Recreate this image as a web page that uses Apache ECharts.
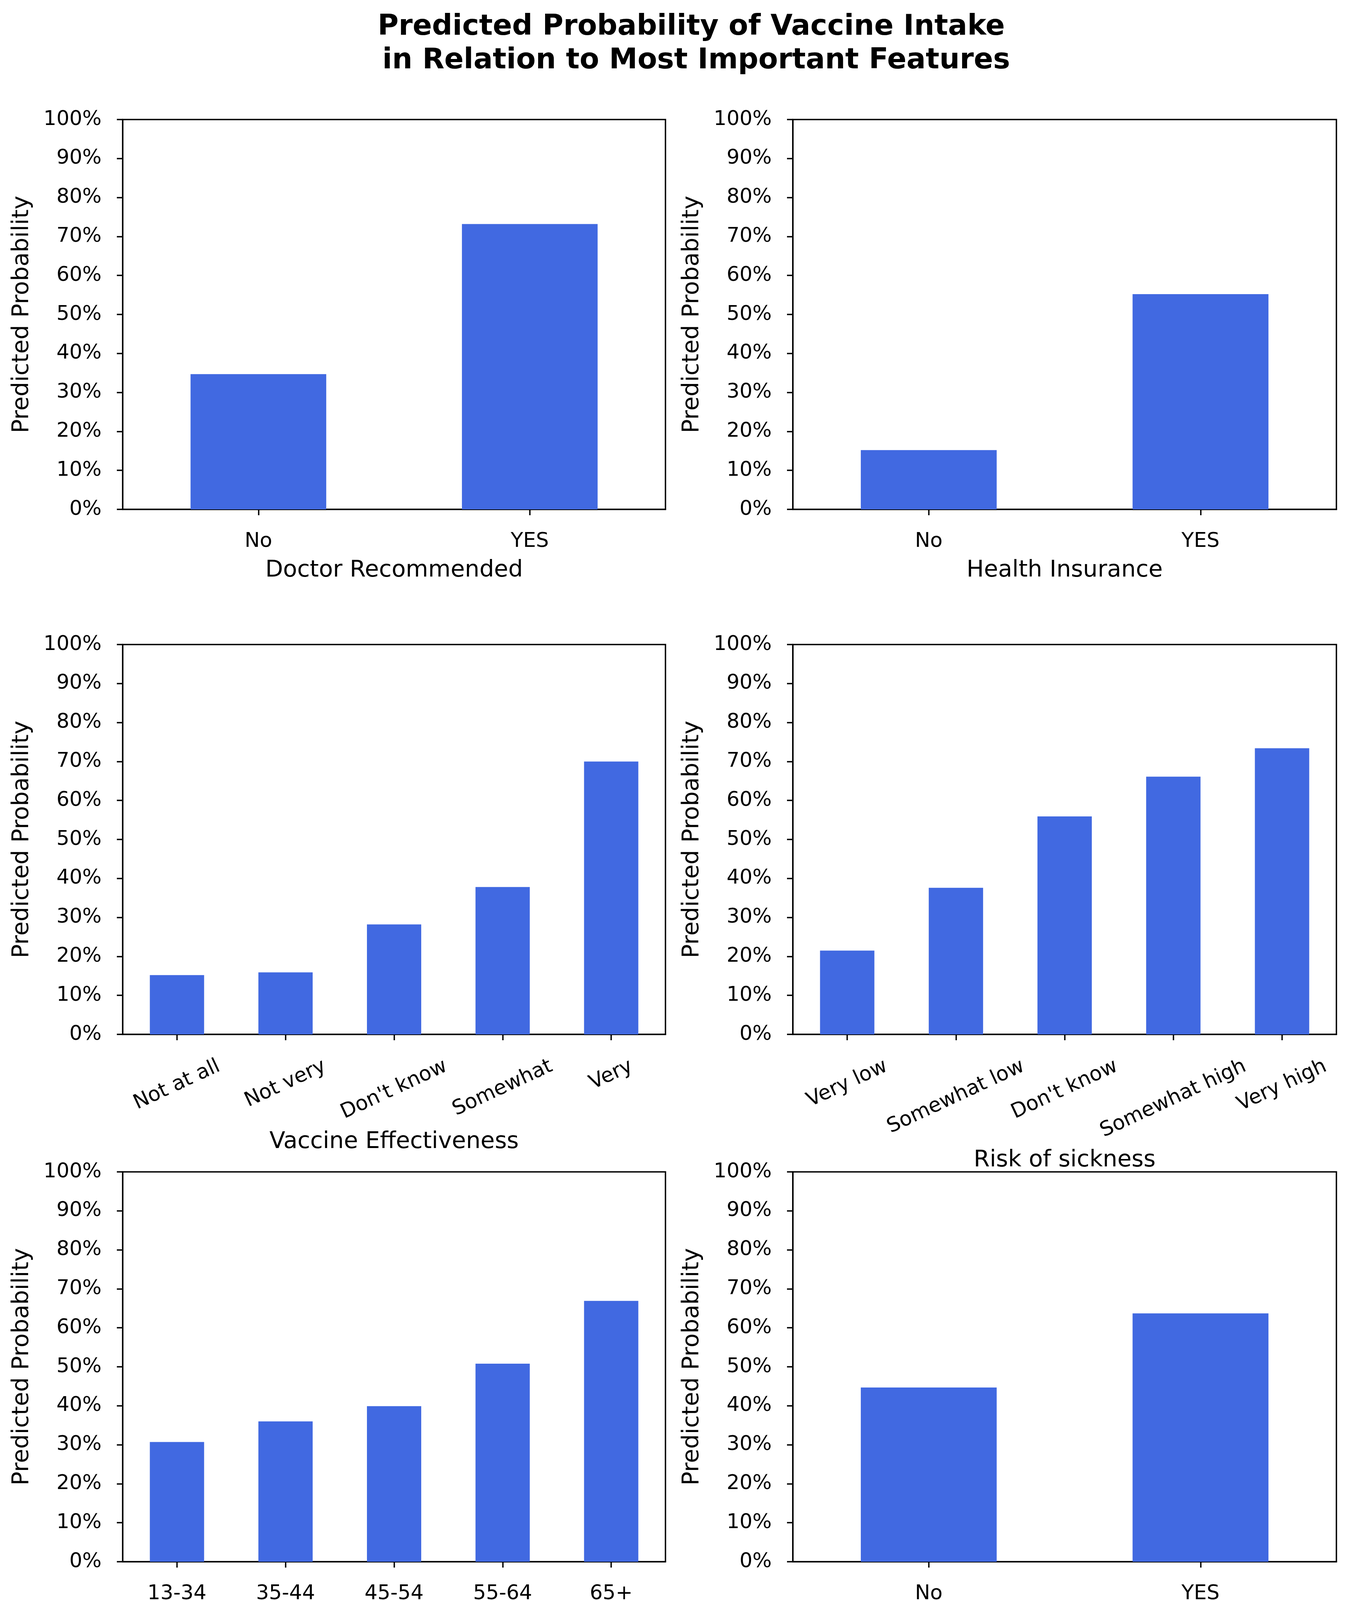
<!DOCTYPE html>
<html>
<head>
<meta charset="utf-8">
<script src="https://cdn.jsdelivr.net/npm/echarts@6/dist/echarts.min.js"></script>
<style>html,body{margin:0;padding:0;background:#fff}#c{width:3442px;height:4204px}</style>
</head>
<body>
<div id="c"></div>
<script>
// ---- data ----
const titleLines = ['Predicted Probability of Vaccine Intake', ' in Relation to Most Important Features'];
const yAxisTitle = 'Predicted Probability';

const doctorCats = ['No', 'YES'];
const doctorVals = [0.347, 0.732];
const insuranceCats = ['No', 'YES'];
const insuranceVals = [0.152, 0.552];
const effectCats = ['Not at all', 'Not very', "Don't know", 'Somewhat', 'Very'];
const effectVals = [0.152, 0.159, 0.282, 0.378, 0.700];
const riskCats = ['Very low', 'Somewhat low', "Don't know", 'Somewhat high', 'Very high'];
const riskVals = [0.215, 0.376, 0.559, 0.661, 0.734];
const ageCats = ['13-34', '35-44', '45-54', '55-64', '65+'];
const ageVals = [0.307, 0.360, 0.399, 0.508, 0.669];
const workerCats = ['No', 'YES'];
const workerVals = [0.447, 0.637];
const xTitles = ['Doctor Recommended', 'Health Insurance', 'Vaccine Effectiveness', 'Risk of sickness', 'Age Group', 'Health Worker'];

// ---- layout / style ----
const FONT = 'DejaVu Sans';
const TICK_FS = 52, LABEL_FS = 59, TITLE_FS = 73;
const PAD = 56, LABELPAD = 21;
const LW = 3.5;
const BAR = '#4169E1';
const ROT_DEG = 25;
const ROT = ROT_DEG * Math.PI / 180;

const cv = document.createElement('canvas').getContext('2d');
function tw(s, size, weight) {
  cv.font = (weight || 'normal') + ' ' + size + 'px "' + FONT + '"';
  return cv.measureText(s).width;
}

const panels = [
  { cats: doctorCats, vals: doctorVals, rot: false },
  { cats: insuranceCats, vals: insuranceVals, rot: false },
  { cats: effectCats, vals: effectVals, rot: true },
  { cats: riskCats, vals: riskVals, rot: true },
  { cats: ageCats, vals: ageVals, rot: false },
  { cats: workerCats, vals: workerVals, rot: false }
];
const cols = [{ left: 314, width: 1389 }, { left: 2029, width: 1391 }];
const rows = [306, 1650, 3000];
const PH = 998;

const grid = [], xAxis = [], yAxis = [], series = [];
panels.forEach((p, i) => {
  const r = Math.floor(i / 2), c = i % 2;
  grid.push({ left: cols[c].left, top: rows[r], width: cols[c].width, height: PH,
    show: true, borderColor: '#000', borderWidth: LW, backgroundColor: 'transparent' });
  let maxH = TICK_FS;
  const axisLabel = { interval: 0, hideOverlap: false, fontSize: TICK_FS, fontFamily: FONT, color: '#000',
    margin: PAD, align: 'center', verticalAlign: 'top' };
  if (p.rot) {
    const rich = {};
    p.cats.forEach((s, k) => {
      const w = tw(s, TICK_FS);
      const h = w * Math.sin(ROT) + TICK_FS * Math.cos(ROT);
      maxH = Math.max(maxH, h);
      const D = h / 2;
      rich['r' + k] = { fontSize: TICK_FS, fontFamily: FONT, color: '#000',
        padding: [2 * D * Math.cos(ROT), 2 * D * Math.sin(ROT), 0, 0] };
    });
    axisLabel.rotate = ROT_DEG;
    axisLabel.verticalAlign = 'middle';
    axisLabel.rich = rich;
    axisLabel.formatter = (v, k) => '{r' + k + '|' + v + '}';
  }
  xAxis.push({
    type: 'category', gridIndex: i, data: p.cats,
    axisLine: { show: true, lineStyle: { color: '#000', width: LW } },
    axisTick: { show: true, alignWithLabel: true, length: 15, lineStyle: { color: '#000', width: LW } },
    axisLabel: axisLabel,
    splitLine: { show: false },
    name: xTitles[i], nameLocation: 'middle', nameGap: PAD + maxH + LABELPAD - 2,
    nameTextStyle: { fontSize: LABEL_FS, fontFamily: FONT, color: '#000', verticalAlign: 'top' }
  });
  yAxis.push({
    type: 'value', gridIndex: i, min: 0, max: 1, interval: 0.1,
    axisLine: { show: true, lineStyle: { color: '#000', width: LW } },
    axisTick: { show: true, length: 15, lineStyle: { color: '#000', width: LW } },
    splitLine: { show: false },
    axisLabel: { fontSize: TICK_FS, fontFamily: FONT, color: '#000', margin: 54,
      formatter: v => Math.round(v * 100) + '%' },
    name: yAxisTitle, nameLocation: 'middle', nameGap: 228, nameRotate: 90,
    nameTextStyle: { fontSize: LABEL_FS, fontFamily: FONT, color: '#000' }
  });
  series.push({ type: 'bar', xAxisIndex: i, yAxisIndex: i, data: p.vals, barWidth: '50%',
    itemStyle: { color: BAR }, silent: true });
});

const TITLE_CX = 1764;

const chart = echarts.init(document.getElementById('c'), null, { renderer: 'canvas' });
chart.setOption({
  animation: false,
  backgroundColor: '#fff',
  title: {
    text: titleLines.join('\n'),
    left: TITLE_CX, top: 22, textAlign: 'center',
    textStyle: { fontSize: TITLE_FS, fontWeight: 'bold', fontFamily: FONT, color: '#000', lineHeight: 86 }
  },
  grid: grid, xAxis: xAxis, yAxis: yAxis, series: series
});
</script>
</body>
</html>
